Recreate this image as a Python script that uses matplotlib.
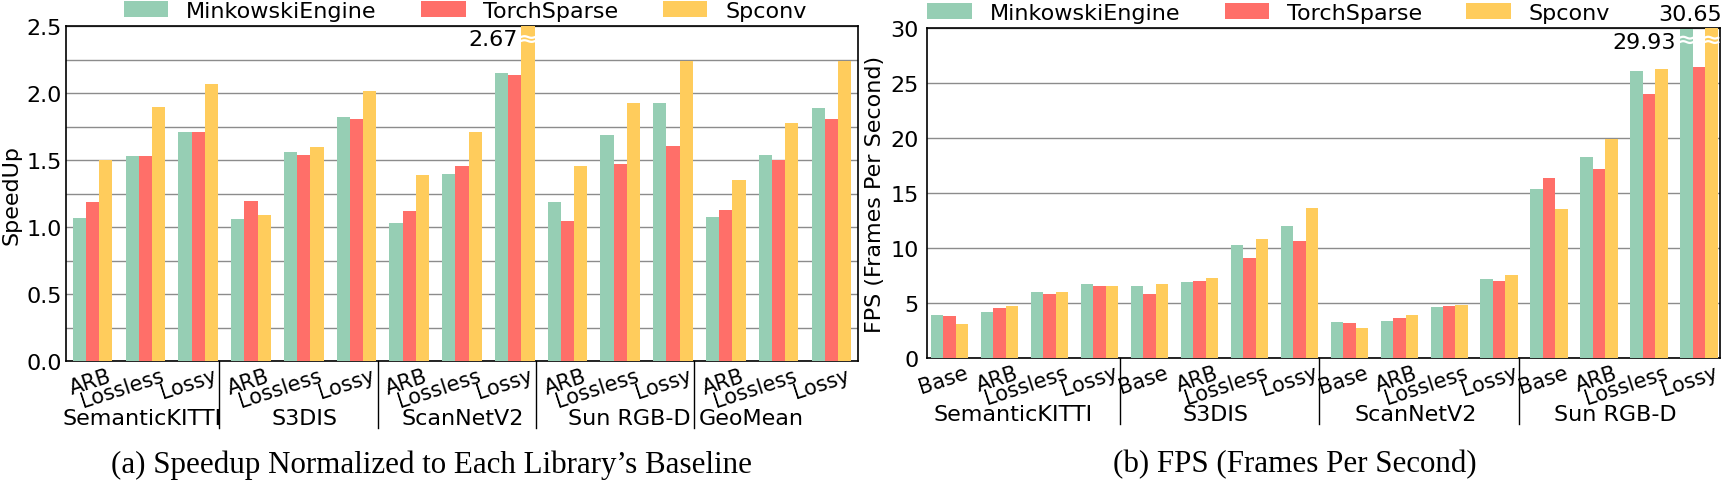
import numpy as np
import matplotlib
matplotlib.use("Agg")
import matplotlib.pyplot as plt
import matplotlib.transforms as mtransforms

# ---------------- data ----------------
series = ["MinkowskiEngine", "TorchSparse", "Spconv"]
colors = ["#96ceb4", "#ff6f69", "#ffcc5c"]

# (a) speedup
a_groups = ["SemanticKITTI", "S3DIS", "ScanNetV2", "Sun RGB-D", "GeoMean"]
a_sub = ["ARB", "Lossless", "Lossy"]
a_mink = [1.07, 1.53, 1.71, 1.06, 1.56, 1.82, 1.03, 1.40, 2.15, 1.19, 1.69, 1.93, 1.08, 1.54, 1.89]
a_torch = [1.19, 1.53, 1.71, 1.20, 1.54, 1.81, 1.12, 1.46, 2.14, 1.05, 1.47, 1.61, 1.13, 1.50, 1.81]
a_spconv = [1.50, 1.90, 2.07, 1.09, 1.60, 2.02, 1.39, 1.71, 2.67, 1.46, 1.93, 2.24, 1.35, 1.78, 2.24]
a_group_label_x = [0.94, 4.02, 7.02, 10.18, 12.49]

# (b) FPS
b_groups = ["SemanticKITTI", "S3DIS", "ScanNetV2", "Sun RGB-D"]
b_sub = ["Base", "ARB", "Lossless", "Lossy"]
b_mink = [3.94, 4.21, 6.03, 6.75, 6.57, 6.94, 10.30, 12.03, 3.30, 3.39, 4.66, 7.21, 15.39, 18.30, 26.12, 29.93]
b_torch = [3.85, 4.57, 5.85, 6.57, 5.85, 7.03, 9.12, 10.66, 3.21, 3.66, 4.75, 7.03, 16.39, 17.20, 24.03, 26.48]
b_spconv = [3.12, 4.75, 6.03, 6.57, 6.75, 7.30, 10.85, 13.66, 2.76, 3.94, 4.85, 7.57, 13.57, 19.94, 26.30, 30.65]
b_group_label_x = [1.27, 5.32, 9.33, 13.32]

W = 1726
H = 485
fig = plt.figure(figsize=(W / 100, H / 100), dpi=100)
plt.rcParams["font.family"] = ["DejaVu Sans"]

axA = fig.add_axes([66.3 / W, (H - 362.3) / H, 791.4 / W, 335.0 / H])
axB = fig.add_axes([926.7 / W, (H - 359.3) / H, 793.3 / W, 330.0 / H])

bw = 0.25


def draw_panel(ax, vals, groups, subs, glx, ylim, major, minor, xlim, ypad):
    n = len(vals[0])
    x = np.arange(n)
    for j, (v, c, name) in enumerate(zip(vals, colors, series)):
        ax.bar(x + (j - 1) * bw, v, bw, color=c, label=name, zorder=3, linewidth=0)
    ax.set_xlim(*xlim)
    ax.set_ylim(*ylim)
    ax.set_yticks(np.arange(ylim[0], ylim[1] + 1e-9, major))
    if minor:
        ax.set_yticks(np.arange(ylim[0], ylim[1] + 1e-9, minor), minor=True)
    ax.grid(axis="y", which="both", color="#8c8c8c", lw=1.0, zorder=0)
    ax.set_axisbelow(True)
    ax.tick_params(axis="both", which="both", length=0, labelsize=16)
    ax.tick_params(axis="y", pad=ypad)
    ax.tick_params(axis="x", pad=3)
    labels = [subs[i % len(subs)] for i in range(n)]
    ax.set_xticks(x)
    ax.set_xticklabels(labels, rotation=18, ha="right", fontsize=15)
    off = mtransforms.ScaledTranslation(0.21, 0, fig.dpi_scale_trans)
    for lab in ax.get_xticklabels():
        lab.set_transform(lab.get_transform() + off)
    for sp in ax.spines.values():
        sp.set_linewidth(1.2)
        sp.set_color("black")
    trans = mtransforms.blended_transform_factory(ax.transData, ax.transAxes)
    k = len(subs)
    for g in range(len(groups) - 1):
        xs = (g + 1) * k - 1 + 0.4
        ax.plot([xs, xs], [0, -0.2], color="black", lw=1.0, transform=trans, clip_on=False)
    for g, name in enumerate(groups):
        ax.text(glx[g], -0.17, name, transform=trans, ha="center", va="center", fontsize=16)


draw_panel(axA, [a_mink, a_torch, a_spconv], a_groups, a_sub, a_group_label_x,
           (0, 2.5), 0.5, 0.25, (-0.5, 14.5), 3)
draw_panel(axB, [b_mink, b_torch, b_spconv], b_groups, b_sub, b_group_label_x,
           (0, 30), 5, None, (-0.46, 15.42), 5.5)

axA.set_ylabel("SpeedUp", fontsize=16)
axB.set_ylabel("FPS (Frames Per Second)", fontsize=16)


def wave(ax, xc, y0, amp):
    xs = np.linspace(xc - bw / 2 - 0.01, xc + bw / 2 + 0.01, 30)
    t = (xs - xs[0]) / (xs[-1] - xs[0])
    ys = y0 + amp * np.sin(2 * np.pi * t) * 0.5 - amp * 0.5 * np.cos(np.pi * t) * 0
    ax.plot(xs, ys, color="white", lw=1.6, zorder=5, clip_on=False)


# break marks on clipped bars
iA = 8
wave(axA, iA + bw, 2.42, 0.012)
wave(axA, iA + bw, 2.39, 0.012)
axA.text(iA + bw / 2 - 0.07, 2.405, "2.67", ha="right", va="center", fontsize=16)

iB = 15
for xc in (iB - bw, iB + bw):
    wave(axB, xc, 29.15, 0.16)
    wave(axB, xc, 28.75, 0.16)
axB.text(iB - 1.5 * bw - 0.08, 28.75, "29.93", ha="right", va="center", fontsize=16)
axB.text(15.46, 31.3, "30.65", ha="right", va="center", fontsize=16, clip_on=False)

# legends
axA.legend(loc="center left", bbox_to_anchor=(0.0729, 1.0466), ncol=3, frameon=False,
           fontsize=16, borderpad=0, borderaxespad=0)
axB.legend(loc="center left", bbox_to_anchor=(0.001, 1.0464), ncol=3, frameon=False,
           fontsize=16, borderpad=0, borderaxespad=0)

# captions
fig.text(0.25, (H - 465) / H, "(a) Speedup Normalized to Each Library\u2019s Baseline",
         ha="center", va="center", fontsize=22.3, family="Liberation Serif")
fig.text(0.75, (H - 465) / H, "(b) FPS (Frames Per Second)",
         ha="center", va="center", fontsize=22.3, family="Liberation Serif")

fig.savefig("out.png", dpi=100)
